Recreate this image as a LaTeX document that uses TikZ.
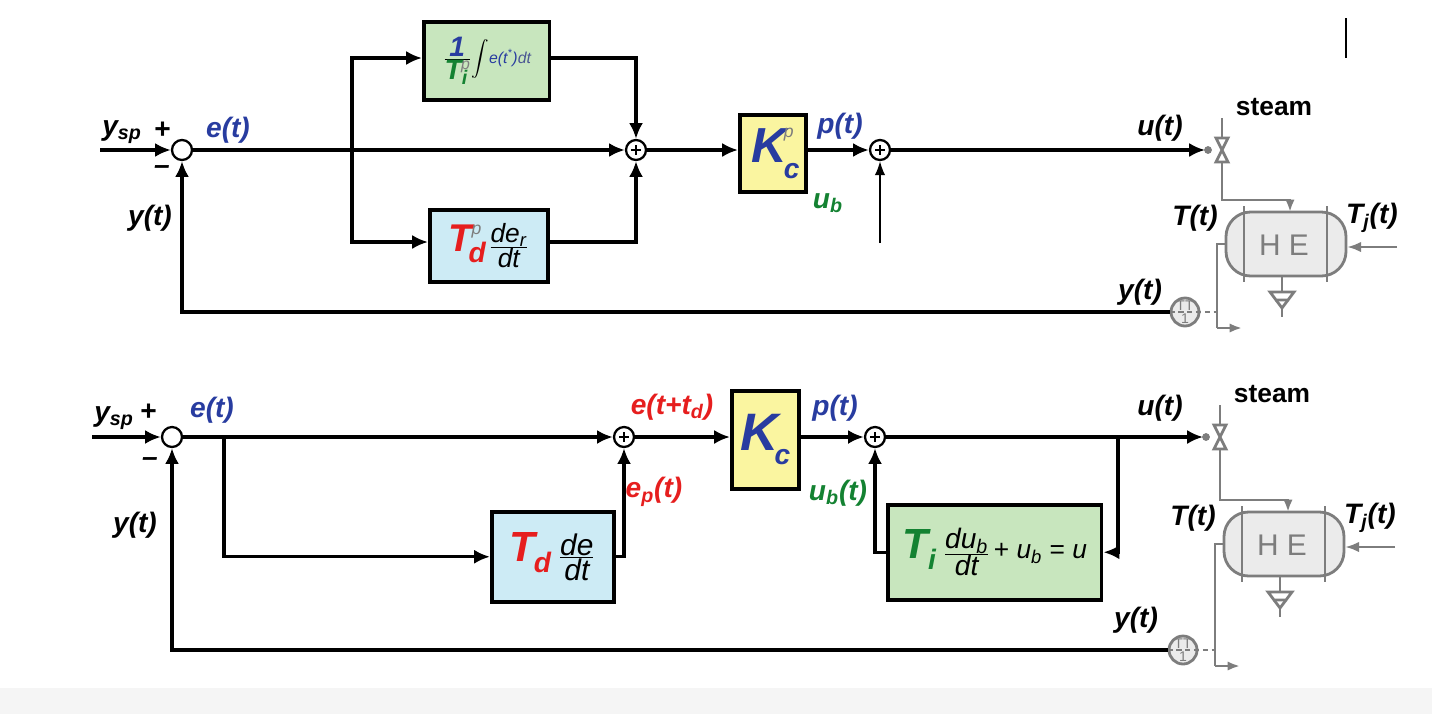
\documentclass[tikz,border=0pt]{standalone}
\usepackage{fontspec}
\usepackage{amsmath}
\setmainfont{Liberation Sans}
\usetikzlibrary{arrows.meta,calc}
\definecolor{cb}{RGB}{40,60,160}
\definecolor{cg}{RGB}{20,130,50}
\definecolor{cr}{RGB}{230,30,30}
\definecolor{fgreen}{RGB}{200,230,190}
\definecolor{fblue}{RGB}{205,235,245}
\definecolor{fyel}{RGB}{250,245,160}
\definecolor{pg}{RGB}{125,125,125}
\definecolor{hefill}{RGB}{235,235,235}
\newcommand\lab[1]{{\fontsize{16}{18}\selectfont\bfseries\itshape #1}}
\newcommand\labf{\fontsize{16}{18}\selectfont\bfseries\itshape}
\newcommand\plantdraw[5]{% name, vx, vy, heTop, ttY
 \begin{scope}[pg,line width=1.6pt]
  \coordinate (#1v) at (#2,#3);
  \draw (#2,#3-32) -- (#2,#3-12);
  \draw (#2-6,#3-12) -- (#2+6,#3-12) -- (#2-6,#3+12) -- (#2+6,#3+12) -- cycle;
  \draw (#2,#3+12) -- (#2,#4-12) -| (#2+68,#4-10);
  \draw[-{Latex[length=7pt]}] (#2+68,#4-12) -- (#2+68,#4);
  \draw[fill=hefill,rounded corners=14] (#2+4,#4) rectangle (#2+124,#4+64);
  \draw (#2+22,#4-6) -- (#2+22,#4+70); \draw (#2+105,#4-6) -- (#2+105,#4+70);
  \node[pg,font=\fontsize{17}{18}\selectfont] at (#2+62,#4+33) {H E};
  \draw[-{Latex[length=8pt]}] (#2+175,#4+35) -- (#2+125,#4+35);
  \draw (#2+60,#4+64) -- (#2+60,#4+80);
  \draw (#2+48,#4+80) -- (#2+72,#4+80) -- (#2+66,#4+88) -- (#2+54,#4+88) -- cycle;
  \draw (#2+54,#4+88) -- (#2+60,#4+96) -- (#2+66,#4+88); \draw (#2+60,#4+96) -- (#2+60,#4+105);
  \draw (#2+4,#4+32) -- (#2-5,#4+32) -- (#2-5,#5+16);
  \draw[-{Latex[length=7pt]}] (#2-5,#5+16) -- (#2+20,#5+16);
  \node[draw,circle,fill=hefill,minimum size=0.56cm,inner sep=0] (#1tt) at (#2-37,#5) {};
  \draw[densely dashed,line width=0.8pt] (#1tt.west) -- (#1tt.east) -- (#2-5,#5);
  \node[pg,font=\fontsize{8}{8}\selectfont,inner sep=0] at (#2-37,#5-6) {TT};
  \node[pg,font=\fontsize{8}{8}\selectfont,inner sep=0] at (#2-37,#5+7) {1};
 \end{scope}
 \draw[pg,fill=pg] (#2-14,#3) circle (3.5);
 \node[font=\fontsize{15}{16}\selectfont\bfseries] at (#2+52,#3-43) {steam};
 \node[font=\labf] at (#2-27,#4+6) {T(t)};
 \node[font=\labf] at (#2+150,#4+6) {T\textsubscript{j}(t)};
}
\tikzset{
 sum/.style={draw,circle,minimum size=0.4cm,inner sep=0,line width=1.3pt,
   path picture={\draw[line width=1pt] ($(path picture bounding box.center)+(-5,0)$)--++(10,0) ($(path picture bounding box.center)+(0,-5)$)--++(0,10);}},
 blk/.style={draw,line width=2pt,inner sep=0,anchor=north west},
 ln/.style={line width=1.8pt},
 ar/.style={ln,-{Latex[length=9pt,width=8pt]}},
}
\begin{document}
\begin{tikzpicture}[x=0.02cm,y=-0.02cm]
\useasboundingbox (0,0) rectangle (1432,714);
\fill[black!4] (0,688) rectangle (1432,714);
\draw[line width=1pt] (1346,18) -- (1346,58);
% ===== TOP =====
\node[circle,draw,line width=1.3pt,minimum size=0.4cm,inner sep=0] (s1) at (182,150) {};
\node[sum] (s2) at (636,150) {};
\node[sum] (s3) at (880,150) {};
\node[blk,fill=fgreen,minimum width=2.52cm,minimum height=1.56cm] (bi) at (422,20) {};
\node[blk,fill=fblue,minimum width=2.36cm,minimum height=1.44cm] (bd) at (428,208) {};
\node[blk,fill=fyel,minimum width=1.32cm,minimum height=1.54cm] (bk) at (738,113) {};
\node at (bi.center) {$\frac{\text{\lab{\color{cb}1}}}{\text{\lab{\color{cg}T\textsubscript{i}}\kern-4pt\raisebox{6pt}{\color{pg}\itshape\small p}}}\kern-2pt\displaystyle\int\!\text{\color{cb}\itshape\small e(t\textsuperscript{*})\color{cb!60!gray}dt}$};
\node at (bd.center) {\lab{\fontsize{22}{22}\selectfont\color{cr}T}\kern-2pt\raisebox{-6pt}{\lab{\color{cr}d}}\kern-8pt\raisebox{10pt}{\color{pg}\itshape p}\kern4pt$\frac{\text{\itshape\fontsize{15}{15}\selectfont de\textsubscript{r}}}{\text{\itshape\fontsize{15}{15}\selectfont dt}}$};
\node at (bk.center) {\lab{\fontsize{28}{28}\selectfont\color{cb}K}\kern-2pt\raisebox{-9pt}{\lab{\color{cb}c}}\kern-9pt\raisebox{14pt}{\color{pg}\itshape p}};
\coordinate (in1) at (100,150);
\coordinate (br1) at (352,150);
\draw[ar] (in1) -- (s1);
\draw[ar] (s1) -- (s2);
\draw[ar] (br1) |- (bi.west|-0,58);
\draw[ar] (br1) |- (bd.west|-0,242);
\draw[ar] (bi.east|-0,58) -| (s2.north);
\draw[ar] (bd.east|-0,242) -| (s2.south);
\draw[ar] (s2) -- (bk.west|-s2);
\draw[ar] (bk.east|-s3) -- (s3);
\coordinate (ub1) at (880,243);
\draw[line width=1pt,-{Latex[length=8pt]}] (ub1) -- (s3);
\plantdraw{a}{1222}{150}{212}{312}
\draw[ar] (s3) -- (1205,150);
\draw[ar] (att.west) -| (s1.south);
\node[font=\labf] at (122,132) {y\textsubscript{sp}};
\node[font=\labf] at (162,130) {+};
\node[font=\labf] at (162,170) {–};
\node[font=\labf] at (150,218) {y(t)};
\node[font=\labf,cb] at (228,130) {e(t)};
\node[font=\labf,cb] at (840,126) {p(t)};
\node[font=\labf,cg] at (828,203) {u\textsubscript{b}};
\node[font=\labf] at (1160,128) {u(t)};
\node[font=\labf] at (1140,292) {y(t)};
% ===== BOTTOM =====
\node[circle,draw,line width=1.3pt,minimum size=0.4cm,inner sep=0] (t1) at (172,437) {};
\node[sum] (t2) at (624,437) {};
\node[sum] (t3) at (875,437) {};
\node[blk,fill=fblue,minimum width=2.44cm,minimum height=1.8cm] (cd) at (490,510) {};
\node[blk,fill=fyel,minimum width=1.34cm,minimum height=1.96cm] (ck) at (730,389) {};
\node[blk,fill=fgreen,minimum width=4.28cm,minimum height=1.9cm] (ci) at (886,503) {};
\node at (cd.center) {\lab{\fontsize{24}{24}\selectfont\color{cr}T}\kern-1pt\raisebox{-6pt}{\lab{\color{cr}d}}\kern4pt$\frac{\text{\itshape\fontsize{17}{17}\selectfont de}}{\text{\itshape\fontsize{17}{17}\selectfont dt}}$};
\node at (ck.center) {\lab{\fontsize{30}{30}\selectfont\color{cb}K}\kern-2pt\raisebox{-8pt}{\lab{\color{cb}c}}};
\node at (ci.center) {\lab{\fontsize{24}{24}\selectfont\color{cg}T}\raisebox{-6pt}{\lab{\color{cg}i}}\kern4pt$\frac{\text{\itshape\fontsize{16}{16}\selectfont du\textsubscript{b}}}{\text{\itshape\fontsize{16}{16}\selectfont dt}}$\kern2pt{\fontsize{15}{15}\selectfont + \itshape u\textsubscript{b} \upshape= \itshape u}};
\coordinate (in2) at (92,437);
\coordinate (br2) at (224,437);
\coordinate (br3) at (1118,437);
\draw[ar] (in2) -- (t1);
\draw[ar] (t1) -- (t2);
\draw[ar] (br2) |- (cd.west);
\draw[ar] (cd.east) -| (t2.south);
\draw[ar] (t2) -- (ck.west|-t2);
\draw[ar] (ck.east|-t3) -- (t3);
\draw[ar] (ci.west) -| (t3.south);
\draw[ar] (br3) |- (ci.east);
\plantdraw{b}{1220}{437}{512}{650}
\draw[ar] (t3) -- (1203,437);
\draw[ar] (btt.west) -| (t1.south);
\node[font=\labf] at (114,418) {y\textsubscript{sp}};
\node[font=\labf] at (148,412) {+};
\node[font=\labf] at (150,462) {–};
\node[font=\labf] at (135,525) {y(t)};
\node[font=\labf,cb] at (212,410) {e(t)};
\node[font=\labf,cr] at (672,407) {e(t+t\textsubscript{d})};
\node[font=\labf,cr] at (654,492) {e\textsubscript{p}(t)};
\node[font=\labf,cb] at (835,408) {p(t)};
\node[font=\labf,cg] at (838,493) {u\textsubscript{b}(t)};
\node[font=\labf] at (1160,408) {u(t)};
\node[font=\labf] at (1136,620) {y(t)};
\end{tikzpicture}
\end{document}
